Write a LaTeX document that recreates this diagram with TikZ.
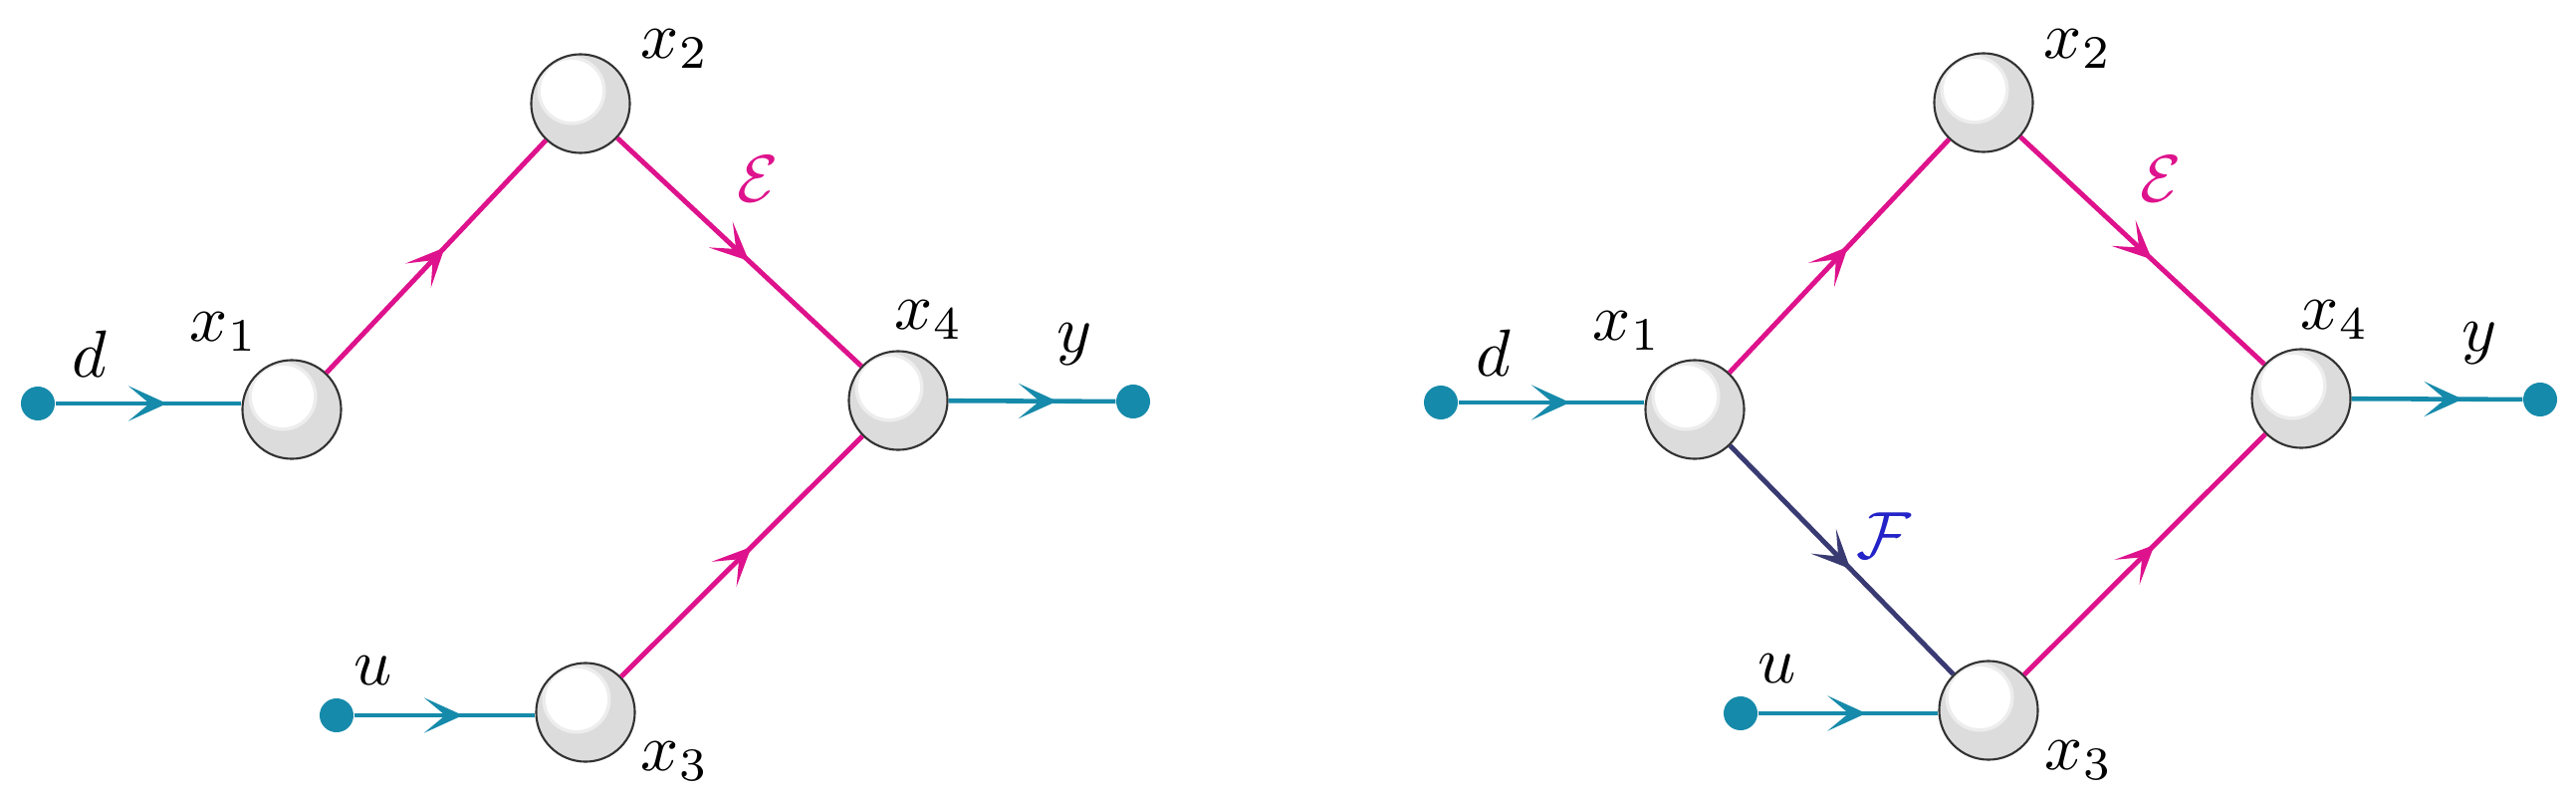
\documentclass[tikz,border=0pt]{standalone}
\usetikzlibrary{arrows.meta,decorations.markings}
\definecolor{mag}{RGB}{222,18,140}
\definecolor{tealc}{RGB}{22,138,170}
\definecolor{navyc}{RGB}{58,58,115}
\definecolor{fblue}{RGB}{35,35,200}
\definecolor{ballgray}{RGB}{220,220,220}
\definecolor{ballrim}{RGB}{50,50,50}
\tikzset{
  ball/.style={circle, draw=ballrim, line width=0.6pt, fill=ballgray, minimum size=0.99cm, inner sep=0pt,
    path picture={
      \fill[white!50!ballgray] ([xshift=-0.09cm,yshift=0.13cm]path picture bounding box.center) circle[radius=0.345cm];
      \fill[white] ([xshift=-0.09cm,yshift=0.13cm]path picture bounding box.center) circle[radius=0.31cm];}},
  tdot/.style={circle, fill=tealc, minimum size=0.34cm, inner sep=0pt},
  lbl/.style={scale=1.9, inner sep=0pt, anchor=base},
  midarrow/.style={postaction={decorate,decoration={markings,
      mark=at position #1 with {\arrow{Stealth[length=11pt,width=10pt,inset=6pt]}}}}},
  inedge/.style={draw=tealc, line width=1.3pt},
  magedge/.style={draw=mag, line width=1.4pt},
  fedge/.style={draw=navyc, line width=1.4pt}
}
\begin{document}
\begin{tikzpicture}[x=0.01cm,y=-0.01cm]
\useasboundingbox (0,0) rectangle (2587,806);
% ---------- left diagram ----------
\node[tdot] (dA) at (38,405) {};
\node[ball] (x1A) at (293,411) {};
\node[ball] (x2A) at (583,104) {};
\node[ball] (x3A) at (588,715) {};
\node[ball] (x4A) at (902,402) {};
\node[tdot] (uA) at (338,718) {};
\node[tdot] (yA) at (1138,403) {};
\draw[inedge, midarrow=0.6] (dA) -- (dA -| x1A.west);
\draw[inedge, midarrow=0.6] (uA) -- (uA -| x3A.west);
\draw[inedge, midarrow=0.65] (x4A) -- (yA);
\draw[magedge, midarrow=0.54] (x1A) -- (x2A);
\draw[magedge, midarrow=0.54] (x2A) -- (x4A);
\draw[magedge, midarrow=0.54] (x3A) -- (x4A);
\node[lbl] (ldA) at (90,378) {$d$};
\node[lbl] (lx1A) at (225,342) {$x_1$};
\node[lbl] (lx2A) at (678,58) {$x_2$};
\node[lbl, text=mag] (lEA) at (761,202) {$\mathcal{E}$};
\node[lbl] (lx4A) at (933,330) {$x_4$};
\node[lbl] (lyA) at (1079,353) {$y$};
\node[lbl] (luA) at (375,687) {$u$};
\node[lbl] (lx3A) at (678,773) {$x_3$};
% ---------- right diagram ----------
\node[tdot] (dB) at (1447,404) {};
\node[ball] (x1B) at (1702,411) {};
\node[ball] (x2B) at (1992,103) {};
\node[ball] (x3B) at (1997,713) {};
\node[ball] (x4B) at (2311,400) {};
\node[tdot] (uB) at (1748,716) {};
\node[tdot] (yB) at (2551,401) {};
\draw[inedge, midarrow=0.6] (dB) -- (dB -| x1B.west);
\draw[inedge, midarrow=0.6] (uB) -- (uB -| x3B.west);
\draw[inedge, midarrow=0.65] (x4B) -- (yB);
\draw[magedge, midarrow=0.54] (x1B) -- (x2B);
\draw[magedge, midarrow=0.54] (x2B) -- (x4B);
\draw[magedge, midarrow=0.54] (x3B) -- (x4B);
\draw[fedge, midarrow=0.54] (x1B) -- (x3B);
\node[lbl] (ldB) at (1500,377) {$d$};
\node[lbl] (lx1B) at (1634,341) {$x_1$};
\node[lbl] (lx2B) at (2087,58) {$x_2$};
\node[lbl, text=mag] (lEB) at (2170,202) {$\mathcal{E}$};
\node[lbl, text=fblue] (lFB) at (1892,560) {$\mathcal{F}$};
\node[lbl] (lx4B) at (2345,330) {$x_4$};
\node[lbl] (lyB) at (2490,352) {$y$};
\node[lbl] (luB) at (1785,685) {$u$};
\node[lbl] (lx3B) at (2088,772) {$x_3$};
\end{tikzpicture}
\end{document}
